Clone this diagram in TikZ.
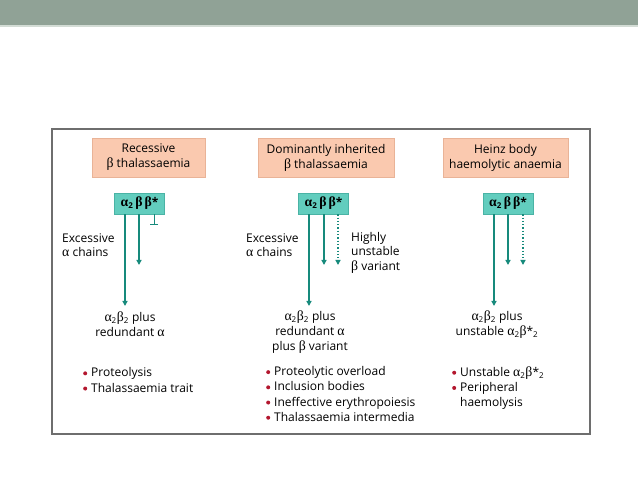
\documentclass[tikz,border=0pt]{standalone}
\usepackage{fontspec}
\setmainfont{Open Sans}
\newfontfamily\grk[Scale=1.15]{Liberation Serif}
\usepackage{tikz}
\usetikzlibrary{arrows.meta}

\definecolor{banner}{HTML}{90A296}
\definecolor{bannerline}{HTML}{D3DCD5}
\definecolor{peach}{HTML}{FAC9AF}
\definecolor{peachline}{HTML}{E9B397}
\definecolor{tealbox}{HTML}{62CDBE}
\definecolor{tealline}{HTML}{4AB3A5}
\definecolor{arrowteal}{HTML}{178A7C}
\definecolor{dotred}{HTML}{B3172E}
\definecolor{framegray}{HTML}{6E6E6E}

\newcommand{\galpha}{{\grk α}}
\newcommand{\gbeta}{{\grk β}}
\newcommand{\bul}{\raisebox{1.6pt}{\tikz\fill[dotred] (0,0) circle (2pt);}}

\begin{document}
\begin{tikzpicture}[x=1pt, y=-1pt,
        head/.style={rectangle, fill=peach, draw=peachline, line width=0.6pt,
                     minimum height=39pt, inner sep=0pt, align=center,
                     font=\fontsize{12}{15}\selectfont},
        chain/.style={rectangle, fill=tealbox, draw=tealline, line width=0.5pt,
                      minimum width=50pt, minimum height=21pt, inner sep=0pt,
                      font=\fontsize{12}{13}\selectfont\bfseries},
        result/.style={align=center, inner sep=0pt,
                       font=\fontsize{12}{15}\selectfont},
        lab/.style={anchor=west, align=left, inner sep=0pt,
                    font=\fontsize{12}{14.5}\selectfont},
        list/.style={anchor=west, inner sep=0pt,
                     font=\fontsize{12}{15.2}\selectfont},
        arr/.style={draw=arrowteal, line width=1.3pt,
                    -{Triangle[length=5pt, width=5pt]}},
        dotarr/.style={arr, dotted},
        tee/.style={draw=arrowteal, line width=1pt, -{Bar[width=8pt]}}]
      \useasboundingbox (0,0) rectangle (638,478);
      \fill[banner] (0,0) rectangle (638,25);
      \fill[bannerline] (0,25) rectangle (638,27);
      \draw[framegray, line width=1.2pt] (52,129) rectangle (590,434);

      % column headings
      \node[head, minimum width=113pt] (h1) at (148.5,157.5) {Recessive\\\gbeta{} thalassaemia};
      \node[head, minimum width=136pt] (h2) at (326,157.5) {Dominantly inherited\\\gbeta{} thalassaemia};
      \node[head, minimum width=125pt] (h3) at (505.5,157.5) {Heinz body\\haemolytic anaemia};

      % globin chains
      \node[chain] (c1) at (139.5,203.5) {\galpha\textsubscript{2}\,\gbeta\,\gbeta*};
      \node[chain] (c2) at (323.5,203.5) {\galpha\textsubscript{2}\,\gbeta\,\gbeta*};
      \node[chain] (c3) at (508,203.5) {\galpha\textsubscript{2}\,\gbeta\,\gbeta*};

      % end points of the arrows
      \coordinate (l1) at (125,306);
      \coordinate (s1) at (139,265);
      \coordinate (t1) at (154,225);
      \coordinate (l2) at (309,306);
      \coordinate (s2) at (324,265);
      \coordinate (d2) at (338,265);
      \coordinate (l3) at (494,306);
      \coordinate (s3) at (508,265);
      \coordinate (d3) at (523,265);

      \draw[arr] (c1.south -| l1) -- (l1);
      \draw[arr] (c1.south -| s1) -- (s1);
      \draw[tee] (c1.south -| t1) -- (t1);
      \draw[arr] (c2.south -| l2) -- (l2);
      \draw[arr] (c2.south -| s2) -- (s2);
      \draw[dotarr] (c2.south -| d2) -- (d2);
      \draw[arr] (c3.south -| l3) -- (l3);
      \draw[arr] (c3.south -| s3) -- (s3);
      \draw[dotarr] (c3.south -| d3) -- (d3);

      % side labels
      \node[lab] (x1) at (62,245) {Excessive\\\galpha{} chains};
      \node[lab] (x2) at (246,245) {Excessive\\\galpha{} chains};
      \node[lab] (v2) at (351,252.5) {Highly\\unstable\\\gbeta{} variant};

      % products
      \node[result] (r1) at (130,324.5)
        {\galpha\textsubscript{2}\gbeta\textsubscript{2} plus\\redundant \galpha};
      \node[result] (r2) at (310,332)
        {\galpha\textsubscript{2}\gbeta\textsubscript{2} plus\\redundant \galpha\\plus \gbeta{} variant};
      \node[result] (r3) at (497,324.5)
        {\galpha\textsubscript{2}\gbeta\textsubscript{2} plus\\unstable \galpha\textsubscript{2}\gbeta*\textsubscript{2}};

      % consequences
      \node[list] (b1) at (83,381.5) {\begin{tabular}{@{}l@{\hspace{4pt}}l@{}}
          \bul & Proteolysis\\
          \bul & Thalassaemia trait
        \end{tabular}};
      \node[list] (b2) at (266,395.5) {\begin{tabular}{@{}l@{\hspace{4pt}}l@{}}
          \bul & Proteolytic overload\\
          \bul & Inclusion bodies\\
          \bul & Ineffective erythropoiesis\\
          \bul & Thalassaemia intermedia
        \end{tabular}};
      \node[list] (b3) at (452,388.5) {\begin{tabular}{@{}l@{\hspace{4pt}}l@{}}
          \bul & Unstable \galpha\textsubscript{2}\gbeta*\textsubscript{2}\\
          \bul & Peripheral\\
               & haemolysis
        \end{tabular}};
    \end{tikzpicture}
\end{document}
